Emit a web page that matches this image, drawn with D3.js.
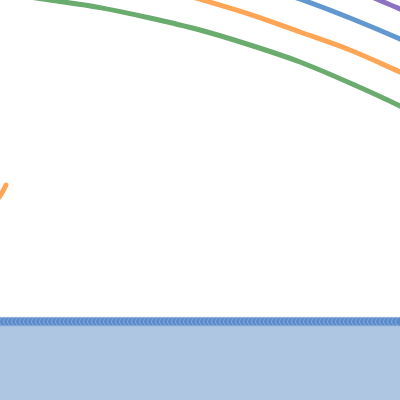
<!DOCTYPE html>
<html>
<head>
<meta charset="utf-8">
<script src="https://cdn.jsdelivr.net/npm/d3@7"></script>
<style>
  html, body { margin: 0; padding: 0; background: #fff; }
  svg { display: block; }
</style>
</head>
<body>
<svg id="chart" width="400" height="400"></svg>
<script>
// curve samples (x and y in data units)
const arcX = [0, 12.5, 25, 37.5, 50, 62.5, 75, 87.5, 100, 105];
const greenY = [101.8, 100, 98.1, 95.5, 92.5, 88.75, 84.5, 79.25, 73.5, 71];
const orangeX = [25, 37.5, 50, 62.5, 75, 87.5, 100, 105];
const orangeY = [111, 104, 100.2, 96.4, 92, 87.5, 82, 79.75];
const blueX = [50, 62.5, 75, 87.5, 100, 105];
const blueY = [113, 104.5, 100.25, 95.5, 90.25, 88];
const purpleX = [78, 85, 92.5, 100, 105];
const purpleY = [110, 104.75, 101, 97.75, 95.5];
const tailX = [-3, 0, 1.5];
const tailY = [49, 51, 53.75];

// flat baseline series with a marker at every step
const baseX = [0,1,2,3,4,5,6,7,8,9,10,11,12,13,14,15,16,17,18,19,20,21,22,23,24,25,26,27,28,29,30,31,32,33,34,35,36,37,38,39,40,41,42,43,44,45,46,47,48,49,50,51,52,53,54,55,56,57,58,59,60,61,62,63,64,65,66,67,68,69,70,71,72,73,74,75,76,77,78,79,80,81,82,83,84,85,86,87,88,89,90,91,92,93,94,95,96,97,98,99,100];
const baseY = [19.6,19.6,19.6,19.6,19.6,19.6,19.6,19.6,19.6,19.6,19.6,19.6,19.6,19.6,19.6,19.6,19.6,19.6,19.6,19.6,19.6,19.6,19.6,19.6,19.6,19.6,19.6,19.6,19.6,19.6,19.6,19.6,19.6,19.6,19.6,19.6,19.6,19.6,19.6,19.6,19.6,19.6,19.6,19.6,19.6,19.6,19.6,19.6,19.6,19.6,19.6,19.6,19.6,19.6,19.6,19.6,19.6,19.6,19.6,19.6,19.6,19.6,19.6,19.6,19.6,19.6,19.6,19.6,19.6,19.6,19.6,19.6,19.6,19.6,19.6,19.6,19.6,19.6,19.6,19.6,19.6,19.6,19.6,19.6,19.6,19.6,19.6,19.6,19.6,19.6,19.6,19.6,19.6,19.6,19.6,19.6,19.6,19.6,19.6,19.6,19.6];

const svg = d3.select("#chart");
const width = +svg.attr("width");
const height = +svg.attr("height");

const x = d3.scaleLinear().domain([0, 100]).range([0, width]);
const y = d3.scaleLinear().domain([0, 100]).range([height, 0]);

svg.append("defs")
  .append("clipPath")
  .attr("id", "plot-clip")
  .append("rect")
  .attr("width", width)
  .attr("height", height);

const g = svg.append("g").attr("clip-path", "url(#plot-clip)");

const zip = (xs, ys) => xs.map((d, i) => ({ x: d, y: ys[i] }));

const line = d3
  .line()
  .x(d => x(d.x))
  .y(d => y(d.y))
  .curve(d3.curveMonotoneX);

const base = zip(baseX, baseY);

g.append("path")
  .datum(base)
  .attr("fill", "#aec6e2")
  .attr("d", d3.area().x(d => x(d.x)).y0(y(y.domain()[0]) + 10).y1(d => y(d.y)));

g.append("path")
  .datum(base)
  .attr("fill", "none")
  .attr("stroke", "#5b8ccb")
  .attr("stroke-width", 3)
  .attr("d", line);

g.selectAll(".dot")
  .data(base)
  .enter()
  .append("circle")
  .attr("class", "dot")
  .attr("cx", d => x(d.x))
  .attr("cy", d => y(d.y))
  .attr("r", 4.4)
  .attr("fill", "#5a8bcb")
  .attr("stroke", "#94b3de")
  .attr("stroke-width", 0.8);

const series = [
  { xs: arcX, ys: greenY, color: "#6aab6e" },
  { xs: orangeX, ys: orangeY, color: "#ffa556" },
  { xs: blueX, ys: blueY, color: "#6198cf" },
  { xs: purpleX, ys: purpleY, color: "#8b72c2" },
  { xs: tailX, ys: tailY, color: "#ffa556" }
];

g.selectAll(".curve")
  .data(series)
  .enter()
  .append("path")
  .attr("class", "curve")
  .attr("fill", "none")
  .attr("stroke", d => d.color)
  .attr("stroke-width", 5)
  .attr("stroke-linecap", "round")
  .attr("d", d => line(zip(d.xs, d.ys)));
</script>
</body>
</html>
